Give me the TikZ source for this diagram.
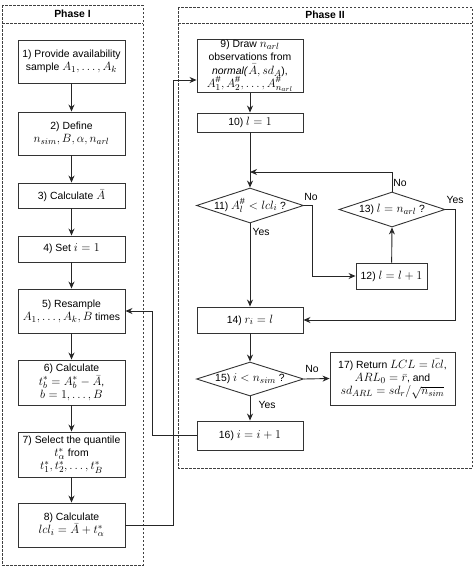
\documentclass[tikz,border=0pt]{standalone}
\usepackage{fontspec}
\setmainfont{Liberation Sans}
\usepackage{xcolor}
\usepackage{tikz}
\usetikzlibrary{arrows.meta,shapes.geometric}
\DeclareMathSizes{10.4}{12.4}{9}{7}

\tikzset{
  >={Stealth[length=7pt,width=6pt]},
  box/.style={draw=black!80, line width=0.9pt, align=center, inner sep=1pt, minimum width=107pt},
  decision/.style={diamond, draw=black!80, line width=0.9pt, inner sep=0pt, minimum width=107pt, minimum height=35pt},
  flow/.style={->, line width=0.9pt, black!85},
  frame/.style={line width=0.9pt, black!75, dash pattern=on 2.5pt off 1.5pt},
  tag/.style={inner sep=0pt},
}

\begin{document}
\begin{tikzpicture}[x=1pt, y=-1pt, font=\fontsize{10.4}{13.2}\selectfont]
            \useasboundingbox (0,0) rectangle (474,566);

            % Phase I frame
            \draw[frame] (2,5) rectangle (143,565);
            \draw[frame] (2,23) -- (143,23);
            \node[font=\bfseries\fontsize{10.4}{12}\selectfont] (ph1) at (72.5,14) {Phase I};

            % Phase II frame
            \draw[frame] (178,7) rectangle (472,468);
            \draw[frame] (178,23) -- (472,23);
            \node[font=\bfseries\fontsize{10.4}{12}\selectfont] (ph2) at (325,15) {Phase II};

            % Phase I steps
            \node[box, minimum height=43pt] (b1) at (71.5,61.5) {1) Provide availability\\sample $A_1,\ldots,A_k$};
            \node[box, minimum height=43pt] (b2) at (71.5,133.5) {2) Define\\$n_{sim},B,\alpha,n_{arl}$};
            \node[box, minimum height=25pt] (b3) at (71.5,195.5) {3) Calculate $\bar{A}$};
            \node[box, minimum height=26pt] (b4) at (71.5,249) {4) Set $i=1$};
            \node[box, minimum height=44pt] (b5) at (71.5,311) {5) Resample\\$A_1,\ldots,A_k,B$ times};
            \node[box, minimum height=45pt] (b6) at (71.5,382.5) {6) Calculate\\$t_b^*=A_b^*-\bar{A}$,\\$b=1,\ldots,B$};
            \node[box, minimum height=45pt] (b7) at (71.5,454.5) {7) Select the quantile\\$t_\alpha^*$ from\\$t_1^*,t_2^*,\ldots,t_B^*$};
            \node[box, minimum height=44pt] (b8) at (71.5,525) {8) Calculate\\$lcl_i=\bar{A}+t_\alpha^*$};

            \draw[flow] (b1) -- (b2);
            \draw[flow] (b2) -- (b3);
            \draw[flow] (b3) -- (b4);
            \draw[flow] (b4) -- (b5);
            \draw[flow] (b5) -- (b6);
            \draw[flow] (b6) -- (b7);
            \draw[flow] (b7) -- (b8);

            % Phase II steps
            \node[box, minimum width=106pt, minimum height=52pt] (b9) at (250,66) {9) Draw $n_{arl}$\\observations from\\\textit{normal(}$\bar{A},sd_A$),\\$A_1^\#,A_2^\#,\ldots,A_{n_{arl}}^\#$};
            \node[box, minimum width=106pt, minimum height=19pt] (b10) at (250,122.5) {10) $l=1$};
            \node[decision, label={center:11) $A_l^\# < lcl_i$ ?}] (d11) at (250,205.5) {};
            \node[decision, minimum width=106pt, label={center:13) $l=n_{arl}$ ?}] (d13) at (392,209.5) {};
            \node[box, minimum width=71pt, minimum height=26pt] (b12) at (391.5,276) {12) $l=l+1$};
            \node[box, minimum width=106pt, minimum height=26pt] (b14) at (250,320) {14) $r_i=l$};
            \node[decision, minimum height=34pt, label={center:15) $i<n_{sim}$ ?}] (d15) at (250,379) {};
            \node[box, minimum width=125pt, minimum height=53pt] (b17) at (392.5,378.5) {17) Return $LCL=\bar{lcl}$,\\$ARL_0=\bar{r}$, and\\$sd_{ARL}=sd_r/\sqrt{n_{sim}}$};
            \node[box, minimum width=106pt, minimum height=29pt] (b16) at (250,435.5) {16) $i=i+1$};

            % bends
            \coordinate (up89) at (173,80);
            \coordinate (back165) at (152,311);
            \coordinate (j1112) at (312,276);
            \coordinate (j13) at (250,172);
            \coordinate (r13) at (455,320);

            \draw[flow] (b8.east) -| (up89) -- (b9.west |- up89);
            \draw[flow] (b9) -- (b10);
            \draw[flow] (b10) -- (d11.north);
            \draw[flow] (d11.east) -| (j1112) -- (b12.west);
            \draw[flow] (b12) -- (d13.south);
            \draw[flow] (d13.north) |- (j13);
            \draw[flow] (d13.east) -| (r13) -- (b14.east);
            \draw[flow] (d11.south) -- (b14.north);
            \draw[flow] (b14) -- (d15.north);
            \draw[flow] (d15.east) -- (b17.west);
            \draw[flow] (d15.south) -- (b16.north);
            \draw[flow] (b16.west) -| (back165) -- (b5.east);

            % Yes / No
            \node[tag] (n11) at (311,197) {No};
            \node[tag] (y11) at (261,232) {Yes};
            \node[tag] (n13) at (400,183) {No};
            \node[tag] (y13) at (455,200) {Yes};
            \node[tag] (n15) at (312,369) {No};
            \node[tag] (y15) at (267,405) {Yes};
        \end{tikzpicture}
\end{document}
